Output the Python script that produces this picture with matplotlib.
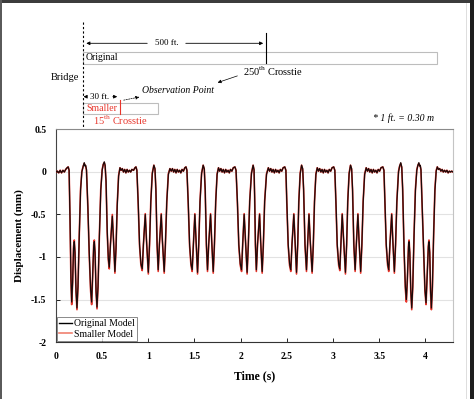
import matplotlib
matplotlib.use('Agg')
import matplotlib.pyplot as plt
from matplotlib.patches import Rectangle
from matplotlib.lines import Line2D

plt.rcParams['font.family'] = ['Liberation Serif', 'DejaVu Serif']
plt.rcParams['mathtext.fontset'] = 'custom'
plt.rcParams['mathtext.rm'] = 'Liberation Serif'

# time history (s, mm)
time_s = [
    0.000, 0.015, 0.030, 0.045, 0.060, 0.075, 0.090, 0.105, 0.120, 0.132,
    0.142, 0.152, 0.162, 0.170, 0.180, 0.190, 0.198, 0.206, 0.217, 0.227, 0.238, 0.252, 0.266, 0.280, 0.295, 0.306,
    0.314, 0.321, 0.330, 0.345, 0.360, 0.375, 0.386, 0.396, 0.408, 0.415, 0.423, 0.434, 0.444, 0.455, 0.470, 0.485, 0.500, 0.512, 0.523, 0.532,
    0.542, 0.555, 0.567, 0.577, 0.590, 0.610, 0.622, 0.638, 0.650, 0.663, 0.678, 0.693,
    0.705, 0.718, 0.731, 0.744, 0.757, 0.770, 0.783, 0.796, 0.809, 0.822, 0.840, 0.855, 0.866,
    0.876, 0.890, 0.905, 0.920, 0.934, 0.947, 0.967, 0.980, 1.000, 1.013, 1.027, 1.043, 1.060, 1.072, 1.082, 1.095, 1.107, 1.120, 1.140, 1.152, 1.172, 1.185, 1.200, 1.217, 1.234,
    1.248, 1.261, 1.274, 1.287, 1.300, 1.313, 1.326, 1.339, 1.352, 1.365, 1.380, 1.395, 1.408,
    1.418, 1.432, 1.447, 1.462, 1.475, 1.488, 1.504, 1.517, 1.533, 1.546, 1.560, 1.577, 1.594, 1.606, 1.616, 1.629, 1.641, 1.654, 1.674, 1.686, 1.703, 1.716, 1.730, 1.745, 1.760,
    1.773, 1.786, 1.799, 1.812, 1.825, 1.838, 1.851, 1.864, 1.877, 1.890, 1.905, 1.920, 1.938,
    1.950, 1.965, 1.980, 1.996, 2.010, 2.022, 2.038, 2.052, 2.070, 2.083, 2.098, 2.117, 2.135, 2.145, 2.152, 2.160, 2.170, 2.183, 2.205, 2.216, 2.233, 2.246, 2.260, 2.280, 2.300,
    2.313, 2.326, 2.339, 2.352, 2.365, 2.378, 2.391, 2.404, 2.417, 2.430, 2.445, 2.460, 2.478,
    2.490, 2.500, 2.515, 2.530, 2.543, 2.556, 2.576, 2.589, 2.605, 2.618, 2.630, 2.645, 2.660, 2.672, 2.682, 2.697, 2.713, 2.725, 2.740, 2.753, 2.774, 2.787, 2.800, 2.815, 2.830,
    2.843, 2.856, 2.869, 2.882, 2.895, 2.908, 2.921, 2.934, 2.947, 2.960, 2.975, 2.990, 3.008,
    3.020, 3.032, 3.046, 3.062, 3.074, 3.086, 3.100, 3.115, 3.135, 3.148, 3.160, 3.175, 3.190, 3.202, 3.212, 3.226, 3.240, 3.253, 3.270, 3.282, 3.300, 3.313, 3.327, 3.343, 3.360,
    3.373, 3.386, 3.399, 3.412, 3.425, 3.438, 3.451, 3.464, 3.477, 3.490, 3.505, 3.520, 3.540,
    3.552, 3.563, 3.577, 3.592, 3.604, 3.617, 3.636, 3.648, 3.665, 3.678, 3.692, 3.710, 3.722, 3.734, 3.745,
    3.755, 3.770, 3.784, 3.795, 3.806, 3.818, 3.824, 3.832, 3.843, 3.853, 3.864, 3.878, 3.893, 3.908, 3.920, 3.930,
    3.938, 3.945, 3.953, 3.966, 3.982, 3.996, 4.008, 4.019, 4.033, 4.040, 4.048, 4.057, 4.066, 4.077, 4.090, 4.104, 4.118,
    4.130, 4.143, 4.156, 4.169, 4.182, 4.195, 4.208, 4.221, 4.234, 4.247, 4.260, 4.273, 4.286, 4.300,
]

disp_original = [
    0.00, 0.01, -0.01, 0.02, -0.01, 0.02, 0.00, 0.03, 0.05, 0.06,
    0.02, -0.55, -1.25, -1.53, -1.30, -0.90, -0.82, -0.95, -1.40, -1.60, -1.35, -0.75, -0.22, 0.00, 0.07, 0.11,
    0.07, 0.08, 0.03, -0.40, -0.95, -1.38, -1.53, -1.25, -0.88, -0.82, -0.95, -1.40, -1.59, -1.35, -0.75, -0.22, 0.02, 0.09, 0.12, 0.08,
    -0.10, -0.70, -1.02, -1.12, -0.85, -0.52, -0.78, -1.17, -0.90, -0.40, -0.05, 0.05,
    0.02, 0.04, 0.00, 0.03, -0.01, 0.03, 0.00, 0.02, 0.00, 0.03, 0.02, 0.05, 0.06,
    0.02, -0.35, -0.85, -1.08, -1.14, -0.85, -0.50, -0.80, -1.18, -0.85, -0.35, -0.02, 0.08, 0.04, -0.20, -0.85, -1.15, -0.85, -0.50, -0.80, -1.17, -0.85, -0.35, -0.03, 0.04,
    0.01, 0.04, 0.00, 0.03, -0.01, 0.03, 0.00, 0.02, -0.01, 0.03, 0.01, 0.05, 0.06,
    0.02, -0.35, -0.85, -1.08, -1.15, -0.85, -0.50, -0.80, -1.18, -0.85, -0.35, -0.02, 0.08, 0.04, -0.20, -0.85, -1.15, -0.85, -0.50, -0.80, -1.17, -0.85, -0.35, -0.03, 0.05,
    0.01, 0.04, 0.00, 0.03, -0.01, 0.03, 0.00, 0.02, -0.01, 0.03, 0.01, 0.05, 0.06,
    0.02, -0.35, -0.85, -1.08, -1.15, -0.85, -0.50, -0.80, -1.18, -0.85, -0.35, -0.02, 0.08, 0.03, -0.30, -0.85, -1.15, -0.85, -0.50, -0.80, -1.17, -0.85, -0.35, -0.03, 0.05,
    0.01, 0.04, 0.00, 0.03, -0.01, 0.03, 0.00, 0.02, -0.01, 0.03, 0.01, 0.05, 0.06,
    0.02, -0.35, -0.85, -1.08, -1.15, -0.85, -0.50, -0.80, -1.18, -0.85, -0.35, -0.02, 0.08, 0.04, -0.20, -0.85, -1.15, -0.85, -0.50, -0.80, -1.17, -0.85, -0.35, -0.03, 0.05,
    0.01, 0.04, 0.00, 0.03, -0.01, 0.03, 0.00, 0.02, -0.01, 0.03, 0.01, 0.05, 0.06,
    0.02, -0.35, -0.85, -1.08, -1.14, -0.85, -0.50, -0.80, -1.18, -0.85, -0.35, -0.02, 0.08, 0.04, -0.20, -0.85, -1.15, -0.85, -0.50, -0.80, -1.17, -0.85, -0.35, -0.03, 0.05,
    0.01, 0.04, 0.00, 0.03, -0.01, 0.03, 0.00, 0.02, -0.01, 0.03, 0.01, 0.05, 0.06,
    0.02, -0.35, -0.85, -1.08, -1.15, -0.85, -0.50, -0.80, -1.17, -0.85, -0.35, 0.00, 0.07, 0.11, 0.06,
    -0.20, -0.90, -1.35, -1.50, -1.25, -0.88, -0.82, -0.95, -1.40, -1.60, -1.35, -0.75, -0.22, 0.02, 0.08, 0.11,
    0.07, 0.08, 0.03, -0.40, -0.95, -1.38, -1.54, -1.25, -0.88, -0.82, -0.95, -1.40, -1.60, -1.35, -0.75, -0.22, 0.01,
    0.06, 0.03, 0.04, 0.01, 0.03, 0.00, 0.02, 0.00, 0.02, -0.01, 0.01, 0.00, 0.01, 0.00,
]

disp_smaller = [
    0.00, 0.01, -0.01, 0.02, -0.01, 0.02, 0.00, 0.03, 0.05, 0.06,
    0.02, -0.58, -1.28, -1.56, -1.30, -0.88, -0.80, -0.95, -1.42, -1.62, -1.36, -0.74, -0.20, 0.01, 0.07, 0.10,
    0.08, 0.07, 0.02, -0.42, -0.98, -1.40, -1.56, -1.26, -0.86, -0.80, -0.95, -1.42, -1.61, -1.36, -0.74, -0.20, 0.03, 0.09, 0.11, 0.07,
    -0.12, -0.72, -1.04, -1.14, -0.84, -0.50, -0.78, -1.19, -0.90, -0.38, -0.04, 0.05,
    0.02, 0.04, 0.00, 0.03, -0.01, 0.03, 0.00, 0.02, 0.00, 0.03, 0.02, 0.05, 0.06,
    0.02, -0.37, -0.87, -1.10, -1.16, -0.85, -0.49, -0.80, -1.20, -0.86, -0.34, -0.01, 0.08, 0.03, -0.22, -0.87, -1.17, -0.85, -0.49, -0.80, -1.19, -0.86, -0.34, -0.02, 0.04,
    0.01, 0.04, 0.00, 0.03, -0.01, 0.03, 0.00, 0.02, -0.01, 0.03, 0.01, 0.05, 0.06,
    0.02, -0.37, -0.87, -1.10, -1.17, -0.85, -0.49, -0.80, -1.20, -0.86, -0.34, -0.01, 0.08, 0.03, -0.22, -0.87, -1.17, -0.85, -0.49, -0.80, -1.19, -0.86, -0.34, -0.02, 0.05,
    0.01, 0.04, 0.00, 0.03, -0.01, 0.03, 0.00, 0.02, -0.01, 0.03, 0.01, 0.05, 0.06,
    0.02, -0.37, -0.87, -1.10, -1.17, -0.85, -0.49, -0.80, -1.20, -0.86, -0.34, -0.01, 0.08, 0.02, -0.32, -0.87, -1.17, -0.85, -0.49, -0.80, -1.19, -0.86, -0.34, -0.02, 0.05,
    0.01, 0.04, 0.00, 0.03, -0.01, 0.03, 0.00, 0.02, -0.01, 0.03, 0.01, 0.05, 0.06,
    0.02, -0.37, -0.87, -1.10, -1.17, -0.85, -0.49, -0.80, -1.20, -0.86, -0.34, -0.01, 0.08, 0.03, -0.22, -0.87, -1.17, -0.85, -0.49, -0.80, -1.19, -0.86, -0.34, -0.02, 0.05,
    0.01, 0.04, 0.00, 0.03, -0.01, 0.03, 0.00, 0.02, -0.01, 0.03, 0.01, 0.05, 0.06,
    0.02, -0.37, -0.87, -1.10, -1.16, -0.85, -0.49, -0.80, -1.20, -0.86, -0.34, -0.01, 0.08, 0.03, -0.22, -0.87, -1.17, -0.85, -0.49, -0.80, -1.19, -0.86, -0.34, -0.02, 0.05,
    0.01, 0.04, 0.00, 0.03, -0.01, 0.03, 0.00, 0.02, -0.01, 0.03, 0.01, 0.05, 0.06,
    0.02, -0.37, -0.87, -1.10, -1.17, -0.85, -0.49, -0.80, -1.19, -0.86, -0.34, 0.01, 0.07, 0.10, 0.05,
    -0.22, -0.93, -1.38, -1.53, -1.26, -0.86, -0.80, -0.95, -1.42, -1.62, -1.36, -0.74, -0.20, 0.03, 0.08, 0.10,
    0.08, 0.07, 0.02, -0.42, -0.98, -1.40, -1.56, -1.26, -0.86, -0.80, -0.95, -1.42, -1.62, -1.36, -0.74, -0.20, 0.02,
    0.06, 0.03, 0.04, 0.01, 0.03, 0.00, 0.02, 0.00, 0.02, -0.01, 0.01, 0.00, 0.01, 0.00,
]

assert len(time_s) == len(disp_original) == len(disp_smaller)

x_ticks = [0, 0.5, 1, 1.5, 2, 2.5, 3, 3.5, 4]
x_ticklabels = ['0', '0.5', '1', '1.5', '2', '2.5', '3', '3.5', '4']
y_ticks = [0.5, 0, -0.5, -1, -1.5, -2]
y_ticklabels = ['0.5', '0', '-0.5', '-1', '-1.5', '-2']

RED = '#e8352b'

W, H = 474, 399
fig = plt.figure(figsize=(W / 100, H / 100), dpi=100)
fig.patch.set_facecolor('white')

ax = fig.add_axes([56 / W, 1 - 342 / H, 397 / W, 212.5 / H])
ax.plot(time_s, disp_smaller, color=RED, lw=1.2, zorder=3)
ax.plot(time_s, disp_original, color='#1a0a0a', lw=0.9, zorder=4)
ax.set_xlim(0, 4.3)
ax.set_ylim(-2, 0.5)
ax.set_xticks(x_ticks)
ax.set_xticklabels(x_ticklabels)
ax.set_yticks(y_ticks)
ax.set_yticklabels(y_ticklabels)
ax.tick_params(direction='in', length=3, width=0.6, labelsize=7, pad=7)
for lab in ax.get_xticklabels() + ax.get_yticklabels():
    lab.set_fontweight('bold')
ax.yaxis.grid(True, color='#e2e2e2', lw=0.8)
ax.set_axisbelow(True)
ax.spines['left'].set_color('#444444')
ax.spines['bottom'].set_color('#333333')
ax.spines['top'].set_color('#8a8a8a')
ax.spines['right'].set_color('#c4c4c4')
for s in ax.spines.values():
    s.set_linewidth(0.8)

ax.set_xlabel('Time (s)', fontsize=8.5, fontweight='bold')
ax.xaxis.set_label_coords(0.5, (342 - 370) / 212.5)
ax.set_ylabel('Displacement (mm)', fontsize=8, fontweight='bold')
ax.yaxis.set_label_coords((24 - 56) / 397, 0.5)

handles = [Line2D([], [], color='black', lw=1.0), Line2D([], [], color='#f08070', lw=1.2)]
leg = ax.legend(handles, ['Original Model', 'Smaller Model'], loc='lower left',
                bbox_to_anchor=(0.0, 0.0), fontsize=7, frameon=True, fancybox=False,
                handlelength=1.3, handletextpad=0.2, borderpad=0.25, labelspacing=0.15,
                borderaxespad=0.1)
leg.get_frame().set_edgecolor('#555555')
leg.get_frame().set_linewidth(0.6)

# overlay for the track sketch, drawn in pixel units
ov = fig.add_axes([0, 0, 1, 1])
ov.set_xlim(0, W)
ov.set_ylim(H, 0)
ov.axis('off')

ov.plot([83.3, 83.3], [22, 127], color='black', lw=0.8, ls=(0, (2, 2)))
ov.annotate('', xy=(83.5, 43.3), xytext=(150, 43.3),
            arrowprops=dict(arrowstyle='-|>', color='black', lw=0.6, mutation_scale=5))
ov.annotate('', xy=(266, 43.3), xytext=(183, 43.3),
            arrowprops=dict(arrowstyle='-|>', color='black', lw=0.6, mutation_scale=5))
ov.text(167, 43.3, '500 ft.', fontsize=6.5, ha='center', va='center')
ov.plot([266, 266], [33, 63], color='black', lw=0.8)
ov.add_patch(Rectangle((83.3, 51.7), 354, 12.3, fill=False, edgecolor='#bdbdbd', lw=0.8))
ov.text(86, 57.9, 'Original', fontsize=7, ha='left', va='center')
ov.text(243, 71, '250$^{\\mathrm{th}}$ Crosstie', fontsize=7.5, ha='left', va='center')
ov.text(65, 77, 'Bridge', fontsize=7.5, ha='center', va='center')
ov.annotate('', xy=(215, 83.5), xytext=(240, 75),
            arrowprops=dict(arrowstyle='-|>', color='black', lw=0.5, mutation_scale=5))
ov.text(178, 90.7, 'Observation Point', fontsize=7, style='italic', ha='center', va='center')

ov.annotate('', xy=(83.5, 96.7), xytext=(89, 96.7),
            arrowprops=dict(arrowstyle='-|>', color='black', lw=0.6, mutation_scale=5))
ov.annotate('', xy=(120, 96.7), xytext=(110, 96.7),
            arrowprops=dict(arrowstyle='-|>', color='black', lw=0.6, mutation_scale=5))
ov.text(99.5, 96.7, '30 ft.', fontsize=6.5, ha='center', va='center')
ov.annotate('', xy=(142, 96.5), xytext=(121, 100.7),
            arrowprops=dict(arrowstyle='-|>', color='black', lw=0.5, ls=(0, (2, 1.5)),
                            mutation_scale=5))
ov.add_patch(Rectangle((83.3, 103.3), 75, 11, fill=False, edgecolor='#bdbdbd', lw=0.8))
ov.plot([120, 120], [100, 114.3], color=RED, lw=0.8)
ov.text(86, 108.9, 'Smaller', fontsize=7, color=RED, ha='left', va='center')
ov.text(93, 120, '15$^{\\mathrm{th}}$ Crosstie', fontsize=7.5, color=RED, ha='left', va='center')
ov.text(373, 118.3, '* 1 ft. = 0.30 m', fontsize=7, style='italic', ha='left', va='center')

# dark screenshot edges
ov.add_patch(Rectangle((0, 0), W, 3, color='#3c3c3c', lw=0))
ov.add_patch(Rectangle((0, 0), 2, H, color='#5a5a5a', lw=0))
ov.add_patch(Rectangle((470.5, 0), 3.5, H, color='#1e1e1e', lw=0))
ov.plot([466.5, 466.5], [3, H], color='#d8d8d8', lw=0.6)

fig.savefig('out.png', dpi=100)
